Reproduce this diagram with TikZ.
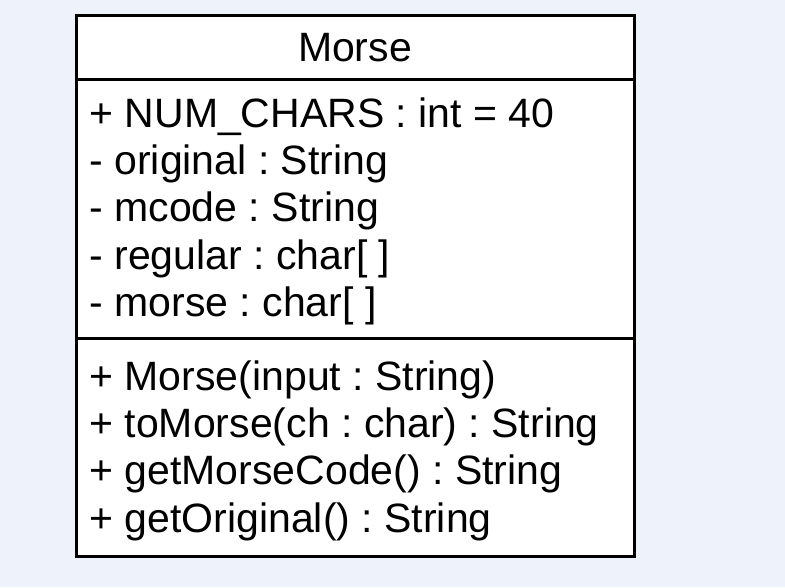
\documentclass[tikz,border=0pt]{standalone}
\usepackage{fontspec}
\setmainfont{Liberation Sans}
\usetikzlibrary{positioning}
\definecolor{bgblue}{HTML}{EEF2FA}
\frenchspacing
\tikzset{member/.style={anchor=base west,inner sep=0pt,font=\fontsize{41}{47}\selectfont}}
\begin{document}
\begin{tikzpicture}[x=1pt,y=-1pt,line width=3pt]
                \fill[bgblue] (0,0) rectangle (785,587);
                \useasboundingbox (0,0) rectangle (785,587);
                \draw[fill=white] (76,15) rectangle (634,556);
                \draw (76,79) -- (634,79);
                \draw (76,338) -- (634,338);
                \node[anchor=base,inner sep=0pt,font=\fontsize{41}{47}\selectfont] (title) at (355,61) {Morse};
                \node[member] (f1) at (88,127) {+ NUM\_CHARS : int = 40};
                \node[member] (f2) at (88,174) {- original : String};
                \node[member] (f3) at (88,221) {- mcode : String};
                \node[member] (f4) at (88,269) {- regular : char[ ]};
                \node[member] (f5) at (88,316) {- morse : char[ ]};
                \node[member] (m1) at (88,390) {+ Morse(input : String)};
                \node[member] (m2) at (88,437) {+ toMorse(ch : char) : String};
                \node[member] (m3) at (88,484) {+ getMorseCode() : String};
                \node[member] (m4) at (88,532) {+ getOriginal() : String};
            \end{tikzpicture}
\end{document}
